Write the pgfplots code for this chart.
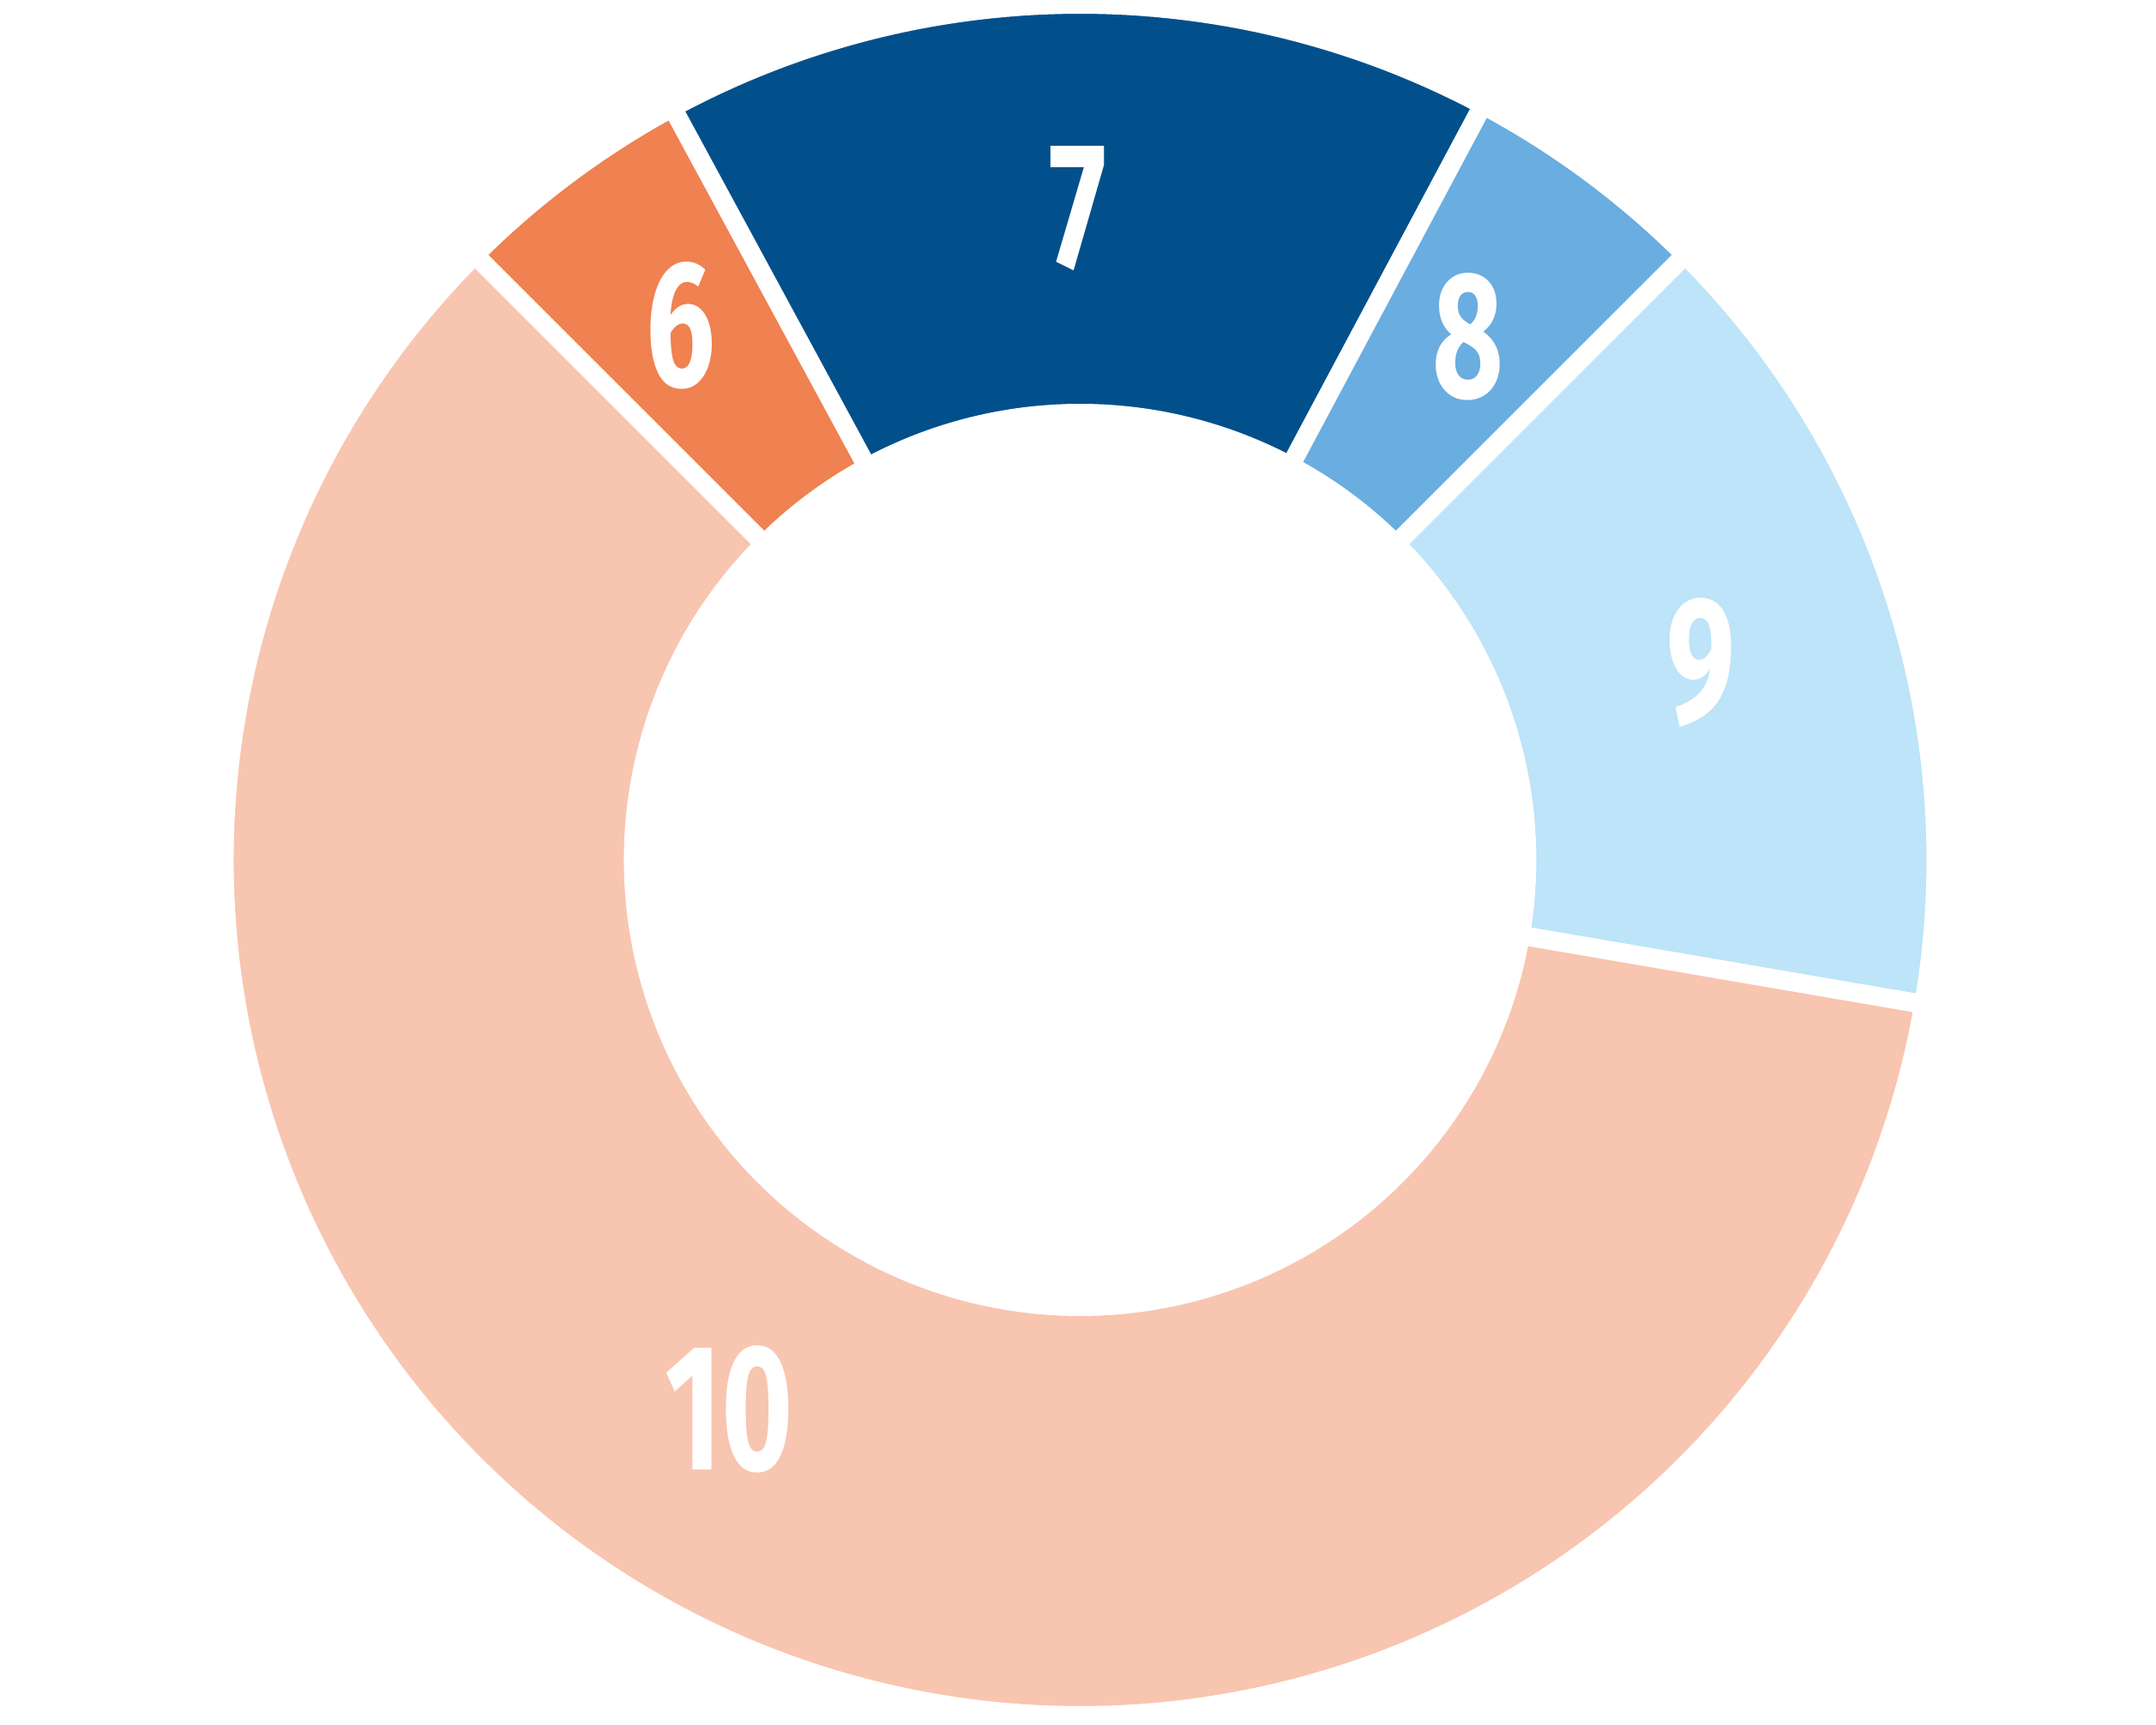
\documentclass[border=0pt]{standalone}
\usepackage{fontspec}
\usepackage{pgfplots}
\pgfplotsset{compat=1.18}
\newfontfamily\labfont{Fira Sans}[FakeStretch=0.68]
\definecolor{cA}{HTML}{F08150}
\definecolor{cB}{HTML}{02508B}
\definecolor{cC}{HTML}{6AADE0}
\definecolor{cD}{HTML}{BDE4F9}
\definecolor{cE}{HTML}{F8C5B0}
% shares (percent) of the five categories 6,7,8,9,10
\def\vA{4.6}\def\vB{15.7}\def\vC{4.7}\def\vD{15.2}\def\vE{59.8}
\pgfmathsetmacro\tA{135}
\pgfmathsetmacro\tB{\tA-3.6*\vA}
\pgfmathsetmacro\tC{\tB-3.6*\vB}
\pgfmathsetmacro\tD{\tC-3.6*\vC}
\pgfmathsetmacro\tE{\tD-3.6*\vD}
\pgfmathsetmacro\tF{\tE-3.6*\vE}
\def\Ro{998}\def\Ri{521}
\newcommand\sector[3]{%
  \addplot[fill=#1, draw=white, line width=4.4pt, domain=0:2, samples=401]
   ({(x<1.0025 ? \Ro : \Ri)*cos(x<1.0025 ? (#2+(#3-#2)*min(x,1)) : (#3+(#2-#3)*max(0,x-1.005)/0.995))},
    {(x<1.0025 ? \Ro : \Ri)*sin(x<1.0025 ? (#2+(#3-#2)*min(x,1)) : (#3+(#2-#3)*max(0,x-1.005)/0.995))}) -- cycle;
}
\newcommand\seclabel[5]{% start, end, angle offset, radius, text
  \pgfmathsetmacro\mang{(#1+#2)/2+#3}
  \pgfmathsetmacro\lx{#4*cos(\mang)}
  \pgfmathsetmacro\ly{#4*sin(\mang)}
  \edef\temp{\noexpand\node[text=white, inner sep=0pt, font=\noexpand\labfont\noexpand\bfseries\noexpand\fontsize{42}{42}\noexpand\selectfont] at (axis cs:\lx,\ly) {#5};}
  \temp
}
\begin{document}
\begin{tikzpicture}
\begin{axis}[
  width=502.8pt, height=402.2pt, scale only axis,
  xmin=-1259.4, xmax=1254.6, ymin=-1008, ymax=1003,
  hide axis, clip=false]
\sector{cA}{\tA}{\tB}
\sector{cB}{\tB}{\tC}
\sector{cC}{\tC}{\tD}
\sector{cD}{\tD}{\tE}
\sector{cE}{\tE}{\tF}
\seclabel{\tA}{\tB}{0}{778}{6}
\seclabel{\tB}{\tC}{0}{760}{7}
\seclabel{\tC}{\tD}{0}{760}{8}
\seclabel{\tD}{\tE}{0}{760}{9}
\seclabel{\tE}{\tF}{-5.2}{760}{10}
\end{axis}
\pgfresetboundingbox
\path[use as bounding box] (current axis.south west) rectangle (current axis.north east);
\end{tikzpicture}
\end{document}
